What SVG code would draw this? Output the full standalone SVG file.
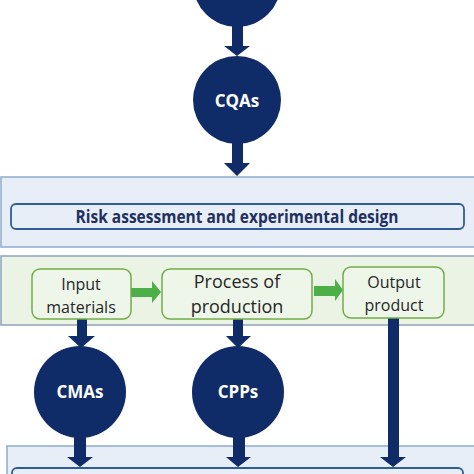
<svg xmlns="http://www.w3.org/2000/svg" width="474" height="474" viewBox="0 0 474 474">
<style>
.circ{fill:#0f2c69}
.ctext{font-family:"Open Sans","Liberation Sans",sans-serif;font-weight:bold;font-size:17px;fill:#ffffff;text-anchor:middle}
.panelB{fill:#e7eef8;stroke:#8eaacb;stroke-width:1.5}
.panelG{fill:#ebf3e5;stroke:#8ea3b8;stroke-width:1.5}
.gbox{fill:#eef6ea;stroke:#70ad47;stroke-width:1.5}
.gtext{font-family:"Open Sans","Liberation Sans",sans-serif;font-size:16px;fill:#262626;text-anchor:middle}
.big{font-size:18px}
.arrow{fill:#0f2c69}
.garrow{fill:#4caf48}
</style>
<rect width="474" height="474" fill="#ffffff"/>
<g id="panel-risk">
<rect class="panelB" x="1" y="177" width="480" height="70"/>
<rect x="11" y="204" width="453" height="25" rx="5" fill="#e8eef8" stroke="#2e5d96" stroke-width="1.8"/>
<text x="237" y="223" font-family="Open Sans,Liberation Sans,sans-serif" font-weight="bold" font-size="18" fill="#1f3060" text-anchor="middle" textLength="323" lengthAdjust="spacingAndGlyphs">Risk assessment and experimental design</text>
</g>
<g id="panel-production">
<rect class="panelG" x="1" y="256" width="480" height="69"/>
</g>
<g id="panel-bottom">
<rect class="panelB" x="7" y="446" width="474" height="40"/>
<rect x="12" y="468" width="451" height="20" rx="5" fill="#e8eef8" stroke="#2e5d96" stroke-width="1.8"/>
</g>
<g id="connectors">
<polygon class="arrow" points="232,26 243,26 243,46 250,46 237,56 224,46 232,46"/>
<polygon class="arrow" points="232,143 243,143 243,163 250,163 237,176 224,163 232,163"/>
<polygon class="garrow" points="131,288 152,288 152,281 161,292 152,303 152,297 131,297"/>
<polygon class="garrow" points="314,286 335,286 335,279 343,290 335,301 335,296 314,296"/>
<polygon class="arrow" points="77,319 87,319 87,336 95,336 81,348 68,336 77,336"/>
<polygon class="arrow" points="233,319 243,319 243,336 251,336 238,348 226,336 233,336"/>
<polygon class="arrow" points="388,318 399,318 399,457 406,457 393,467 380,457 388,457"/>
<polygon class="arrow" points="74,435 86,435 86,457 93,457 80,467 67,457 74,457"/>
<polygon class="arrow" points="233,435 245,435 245,457 251,457 238,467 226,457 233,457"/>
</g>
<g id="node-top">
<circle class="circ" cx="237" cy="-17" r="44"/>
</g>
<g id="node-cqas">
<circle class="circ" cx="237" cy="100" r="44"/>
<text class="ctext" x="237" y="107">CQAs</text>
</g>
<g id="node-input">
<rect class="gbox" x="32" y="269" width="99" height="50" rx="8"/>
<text class="gtext" x="81" y="290">Input</text>
<text class="gtext" x="81" y="313">materials</text>
</g>
<g id="node-process">
<rect class="gbox" x="162" y="269" width="150" height="50" rx="8"/>
<text class="gtext big" x="237" y="288">Process of</text>
<text class="gtext big" x="237" y="313">production</text>
</g>
<g id="node-output">
<rect class="gbox" x="343" y="267" width="101" height="51" rx="8"/>
<text class="gtext" x="394" y="288">Output</text>
<text class="gtext" x="394" y="311">product</text>
</g>
<g id="node-cmas">
<circle class="circ" cx="80" cy="392" r="46"/>
<text class="ctext" x="80" y="398">CMAs</text>
</g>
<g id="node-cpps">
<circle class="circ" cx="238" cy="392" r="46"/>
<text class="ctext" x="238" y="398">CPPs</text>
</g>
</svg>
